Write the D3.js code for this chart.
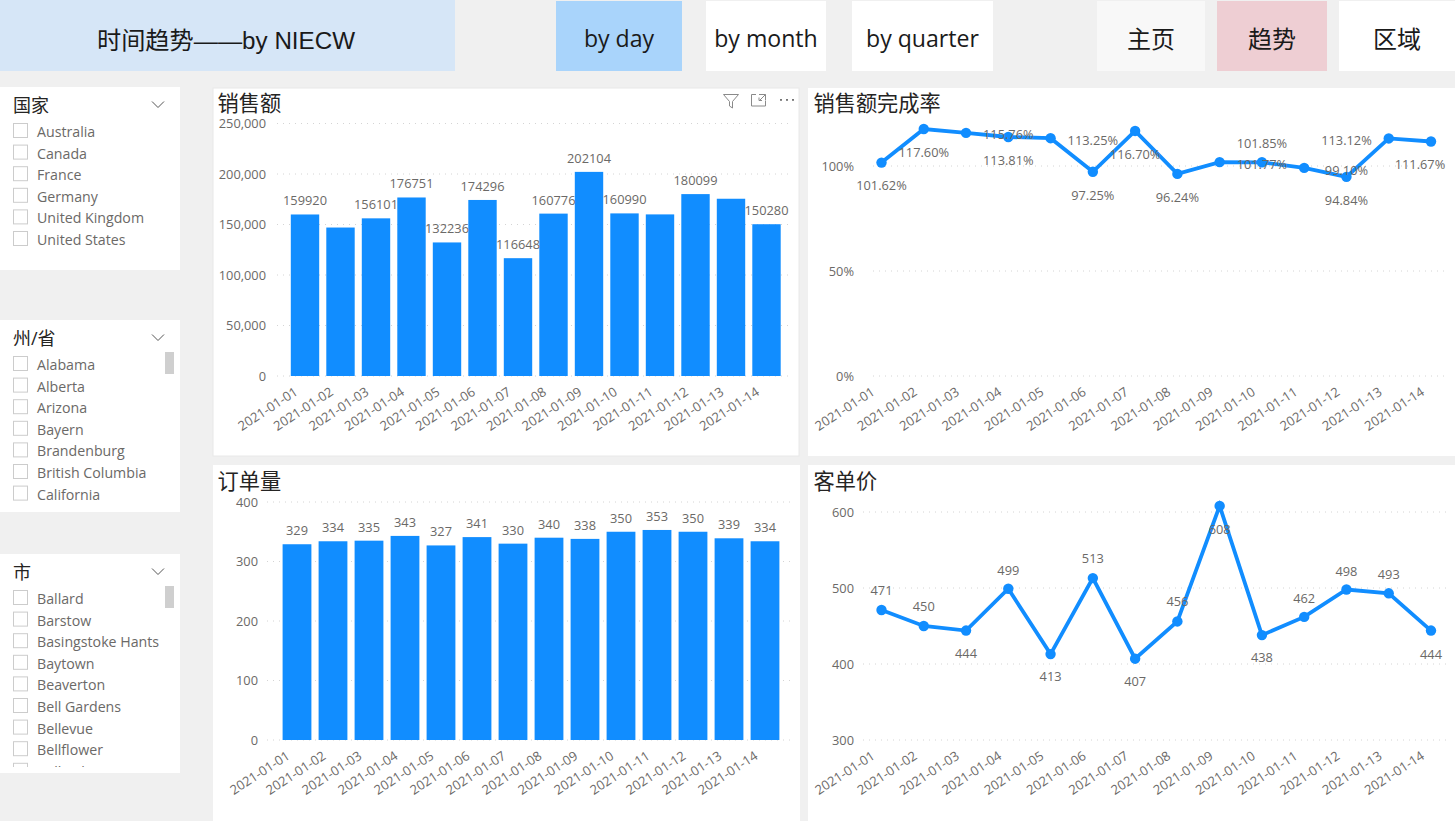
<!DOCTYPE html>
<html><head><meta charset="utf-8">
<script src="https://cdnjs.cloudflare.com/ajax/libs/d3/7.8.5/d3.min.js"></script>
<style>
html,body{margin:0;padding:0;background:#f0f0f0;overflow:hidden}
svg{display:block}
text{font-family:"Open Sans","Noto Sans CJK SC",sans-serif}
</style></head><body>
<svg id="c" width="1455" height="821"></svg>
<script>
const dates=["2021-01-01","2021-01-02","2021-01-03","2021-01-04","2021-01-05","2021-01-06","2021-01-07","2021-01-08","2021-01-09","2021-01-10","2021-01-11","2021-01-12","2021-01-13","2021-01-14"];
const sales=[159920,147000,156101,176751,132236,174296,116648,160776,202104,160990,160000,180099,175500,150280];
const salesHiddenLabels=[1,10,12];
const completion=[101.62,117.60,115.76,113.81,113.25,97.25,116.70,96.24,101.85,101.77,99.10,94.84,113.12,111.67];
const completionLabelSlot=[0,1,3,3,5,5,6,7,9,9,11,11,11,12.74];
const completionLabelDy=[22,23,1,23,2,23,23,23,-19,2,2,23,2,23];
const orders=[329,334,335,343,327,341,330,340,338,350,353,350,339,334];
const unitPrice=[471,450,444,499,413,513,407,456,608,438,462,498,493,444];
const unitPriceLabelDy=[-20,-20,22,-19,22,-20,22,-20,23,22,-19,-19,-19,23];
const salesTicks=[0,50000,100000,150000,200000,250000];
const completionTicks=[0,50,100];
const orderTicks=[0,100,200,300,400];
const priceTicks=[300,400,500,600];
const countries=["Australia","Canada","France","Germany","United Kingdom","United States"];
const states=["Alabama","Alberta","Arizona","Bayern","Brandenburg","British Columbia","California"];
const cities=["Ballard","Barstow","Basingstoke Hants","Baytown","Beaverton","Bell Gardens","Bellevue","Bellflower","Bellingham"];

const BLUE="#118DFF",GREY="#6b6967",DARK="#252423";
const svg=d3.select("#c");
const rect=(x,y,w,h,f,s)=>svg.append("rect").attr("x",x).attr("y",y).attr("width",w).attr("height",h).attr("fill",f).attr("stroke",s||"none");
const txt=(x,y,t,size,fill,anchor,fam)=>{const e=svg.append("text").attr("x",x).attr("y",y).attr("font-size",size).attr("fill",fill||DARK).attr("text-anchor",anchor||"start").attr("dominant-baseline","central").text(t);if(fam)e.style("font-family",fam);return e;};

/* header */
rect(0,0,455,71,"#d6e6f7");
txt(226,40,"时间趋势——by NIECW",24.2,"#1a1a1a","middle",'"Liberation Sans","Noto Sans CJK SC",sans-serif');
const SEG='"Open Sans","Noto Sans CJK SC",sans-serif';
[[556,126,"#a9d4fb","by day"],[706,120,"#fff","by month"],[852,141,"#fff","by quarter"],
 [1097,108,"#f8f8f8","主页"],[1217,110,"#eeced3","趋势"],[1339,116,"#fff","区域"]].forEach(b=>{
  rect(b[0],1,b[1],70,b[2]);
  txt(b[0]+b[1]/2,38,b[3],b[3].startsWith("by")?23.1:24,"#1a1a1a","middle",SEG);
});

/* slicers */
function slicer(top,h,title,items,scrollbar,clipH){
  rect(0,top,180,h,"#fff");
  txt(13,top+18,title,18,DARK,"start");
  svg.append("path").attr("d",`M152 ${top+14.5}l6 6l6 -6`).attr("fill","none").attr("stroke","#555").attr("stroke-width",1);
  if(scrollbar) rect(165,top+32,9,22,"#cfcfcf");
  const id="clip"+top;
  svg.append("clipPath").attr("id",id).append("rect").attr("x",0).attr("y",top).attr("width",180).attr("height",clipH);
  const g=svg.append("g").attr("clip-path",`url(#${id})`);
  const y=d3.scaleLinear().domain([0,1]).range([top+44.5,top+66.1]);
  items.forEach((t,i)=>{
    g.append("rect").attr("x",13.5).attr("y",y(i)-8).attr("width",14).attr("height",14).attr("fill","#fff").attr("stroke","#cccccc");
    g.append("text").attr("x",37).attr("y",y(i)).attr("font-size",14.2).attr("fill",GREY).attr("dominant-baseline","central").text(t);
  });
}
slicer(87,183,"国家",countries,false,183);
slicer(320,192,"州/省",states,true,192);
slicer(554,219,"市",cities,true,213);

/* tiles */
rect(213,88,586,368,"#fff","#e8e8e8");
rect(808,88,647,368,"#fff");
rect(213,465,587,356,"#fff");
rect(808,465,647,356,"#fff");
txt(217.5,102,"销售额",21.2,DARK);
txt(813.5,102,"销售额完成率",21.2,DARK);
txt(217.5,480,"订单量",21.2,DARK);
txt(813.5,480,"客单价",21.2,DARK);

/* visual header icons */
svg.append("path").attr("d","M723.5 94.5h15l-6 7v6.5l-3 -2v-4.5z").attr("fill","none").attr("stroke","#8a8a8a");
svg.append("path").attr("d","M756 94.5h-4.5v11.5h14v-5M759 94.5h6.5v6M765.5 94.5l-6 6M759 100.5v-3M759 100.5h3").attr("fill","none").attr("stroke","#8a8a8a");
[781,787,793].forEach(x=>rect(x-0.9,99,1.8,1.8,"#666"));

function axes(o){
  const gy=svg.append("g").attr("transform",`translate(${o.yAxisX},0)`)
    .call(d3.axisLeft(o.y).tickValues(o.yTicks).tickFormat(o.yFmt).tickSize(0).tickPadding(0));
  gy.select(".domain").remove();
  gy.selectAll("text").attr("font-size",12.8).attr("fill",GREY).style("font-family",SEG);
  svg.append("g").selectAll("line").data(o.yTicks).join("line")
    .attr("x1",o.gx[0]).attr("x2",o.gx[1]).attr("y1",d=>o.y(d)).attr("y2",d=>o.y(d))
    .attr("stroke","#d4d4d4").attr("stroke-dasharray","1 5").attr("stroke-width",1);
  const gx=svg.append("g").attr("transform",`translate(0,${o.baseY})`)
    .call(d3.axisBottom(o.x).tickSize(0).tickPadding(0));
  gx.select(".domain").remove();
  gx.selectAll("text").attr("font-size",13).attr("fill",GREY).style("font-family",SEG)
    .attr("text-anchor","end").attr("dy",0).attr("dominant-baseline","central")
    .attr("transform","translate(-9,14) rotate(-33)").attr("y",0);
}
function label(x,y,t){
  svg.append("text").attr("x",x).attr("y",y).attr("text-anchor","middle").attr("dominant-baseline","central")
    .attr("font-size",12.8).attr("fill",GREY).text(t);
}
function bars(o){
  const x=d3.scaleBand().domain(dates).range(o.xr).paddingInner(0.2).paddingOuter(0.1);
  const y=d3.scaleLinear().domain(o.dom).range(o.yr);
  axes({x,y,yTicks:o.ticks,yFmt:d3.format(","),yAxisX:o.yAxisX,gx:o.gx,baseY:o.yr[0]});
  svg.append("g").selectAll("rect").data(o.vals).join("rect")
    .attr("x",(d,i)=>x(dates[i])).attr("width",x.bandwidth())
    .attr("y",d=>y(d)).attr("height",d=>y(o.dom[0])-y(d)).attr("fill",BLUE);
  o.vals.forEach((d,i)=>{ if(!o.hidden.includes(i)) label(x(dates[i])+x.bandwidth()/2,y(d)-14,d); });
}
function lines(o){
  const x=d3.scalePoint().domain(dates).range(o.xr);
  const y=d3.scaleLinear().domain(o.dom).range(o.yr);
  axes({x,y,yTicks:o.ticks,yFmt:o.fmt,yAxisX:o.yAxisX,gx:o.gx,baseY:o.yr[0]});
  const ln=d3.line().x((d,i)=>x(dates[i])).y(d=>y(d));
  svg.append("path").attr("d",ln(o.vals)).attr("fill","none").attr("stroke",BLUE).attr("stroke-width",3.8);
  svg.append("g").selectAll("circle").data(o.vals).join("circle")
    .attr("cx",(d,i)=>x(dates[i])).attr("cy",d=>y(d)).attr("r",5.2).attr("fill",BLUE);
  o.vals.forEach((d,i)=>{
    const slot=o.slot?o.slot[i]:i;
    label(o.xr[0]+slot*x.step(),y(d)+o.dy[i],o.lab(d));
  });
}
bars({vals:sales,dom:[0,250000],yr:[376,123.5],xr:[287.25,784.25],ticks:salesTicks,yAxisX:266,gx:[277,790],hidden:salesHiddenLabels});
bars({vals:orders,dom:[0,400],yr:[740,502],xr:[279,783],ticks:orderTicks,yAxisX:258,gx:[267,790],hidden:[]});
lines({vals:completion,dom:[0,120],yr:[376,124],xr:[881.5,1431],ticks:completionTicks,yAxisX:854,gx:[873,1447],
  fmt:d=>d+"%",lab:d=>d.toFixed(2)+"%",slot:completionLabelSlot,dy:completionLabelDy});
lines({vals:unitPrice,dom:[300,600],yr:[740,512],xr:[881.5,1431],ticks:priceTicks,yAxisX:854,gx:[863,1447],
  fmt:d=>d,lab:d=>d,dy:unitPriceLabelDy});
</script>
</body></html>
